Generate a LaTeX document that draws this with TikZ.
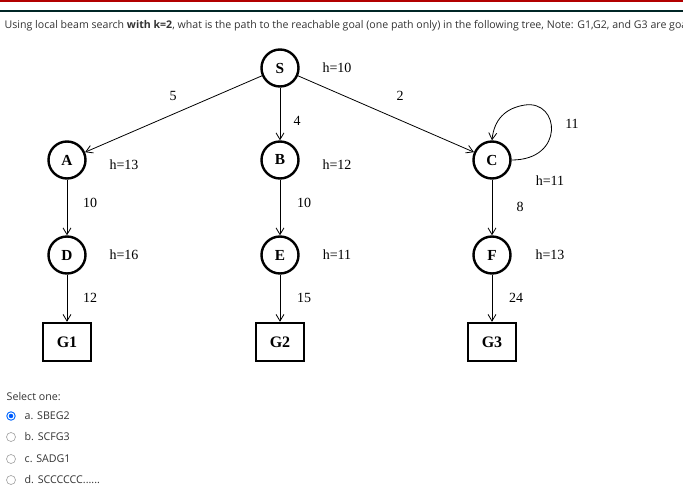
\documentclass[tikz,border=0pt]{standalone}
\usepackage{fontspec}
\setmainfont{Liberation Serif}
\newfontfamily\uisans{Open Sans}
\usetikzlibrary{arrows.meta}
\begin{document}
\begin{tikzpicture}[x=0.75pt,y=-0.75pt,
  st/.style={circle,draw,line width=1.8pt,minimum size=37*0.75pt,inner sep=0pt,font=\fontsize{11.5}{12}\selectfont\bfseries},
  gl/.style={rectangle,draw,line width=1.8pt,minimum width=48*0.75pt,minimum height=38*0.75pt,inner sep=0pt,font=\fontsize{12}{13}\selectfont\bfseries},
  lb/.style={font=\fontsize{10.5}{12}\selectfont},
  ed/.style={-{Straight Barb[length=5pt,width=6pt]},line width=0.6pt},
  ui/.style={font=\uisans\fontsize{8}{10}\selectfont,anchor=west,text=black!80},
  rb/.style={circle,draw=gray!70,line width=0.5pt,minimum size=9*0.75pt,inner sep=0pt}]
\useasboundingbox (0,0) rectangle (683,489);
\fill[red!70!black] (0,0) rectangle (683,2);
\draw[black!70!teal,line width=0.8pt] (0,11) -- (683,11);
\begin{scope}
\clip (0,12) rectangle (683,40);
\node[ui,font=\uisans\fontsize{7.95}{10}\selectfont] (q) at (0,26) {Using local beam search \textbf{with k=2}, what is the path to the reachable goal (one path only) in the following tree, Note: G1,G2, and G3 are goals};
\end{scope}
\node[st] (S) at (280,68) {S};
\node[st] (A) at (67,160) {A};
\node[st] (B) at (280,160) {B};
\node[st] (C) at (492,160) {C};
\node[st] (D) at (67,255) {D};
\node[st] (E) at (280,255) {E};
\node[st] (F) at (492,255) {F};
\node[gl] (G1) at (67,342) {G1};
\node[gl] (G2) at (280,342) {G2};
\node[gl] (G3) at (492,342) {G3};
\draw[ed] (S) -- (A);
\draw[ed] (S) -- (B);
\draw[ed] (S) -- (C);
\draw[ed] (A) -- (D);
\draw[ed] (B) -- (E);
\draw[ed] (C) -- (F);
\draw[ed] (D) -- (G1);
\draw[ed] (E) -- (G2);
\draw[ed] (F) -- (G3);
\draw[ed] (C.east) .. controls (565,160) and (560,100) .. (525,105) .. controls (505,108) and (494,120) .. (C.north);
\node[lb] (h1) at (337,68) {h=10};
\node[lb] (h2) at (124,165) {h=13};
\node[lb] (h3) at (337,165) {h=12};
\node[lb] (h4) at (550,181) {h=11};
\node[lb] (h5) at (124,255) {h=16};
\node[lb] (h6) at (337,255) {h=11};
\node[lb] (h7) at (550,255) {h=13};
\node[lb] (w1) at (173,96) {5};
\node[lb] (w2) at (297,121) {4};
\node[lb] (w3) at (400,96) {2};
\node[lb] (w4) at (572,124) {11};
\node[lb] (w5) at (90,203) {10};
\node[lb] (w6) at (304,203) {10};
\node[lb] (w7) at (520,207) {8};
\node[lb] (w8) at (90,298) {12};
\node[lb] (w9) at (304,298) {15};
\node[lb] (w10) at (516,298) {24};
\node[ui] (sel) at (2,397) {Select one:};
\node[circle,draw=blue!60!cyan,fill=blue!70!cyan,line width=0.8pt,minimum size=6*0.75pt,inner sep=0pt,double=white,double distance=0.8pt] (r1) at (11,416) {};
\node[ui] (o1) at (20,416) {a. SBEG2};
\node[rb] (r2) at (11,437) {};
\node[ui] (o2) at (20,437) {b. SCFG3};
\node[rb] (r3) at (11,459) {};
\node[ui] (o3) at (20,459) {c. SADG1};
\node[rb] (r4) at (11,480) {};
\node[ui] (o4) at (20,480) {d. SCCCCCC......};
\end{tikzpicture}
\end{document}
